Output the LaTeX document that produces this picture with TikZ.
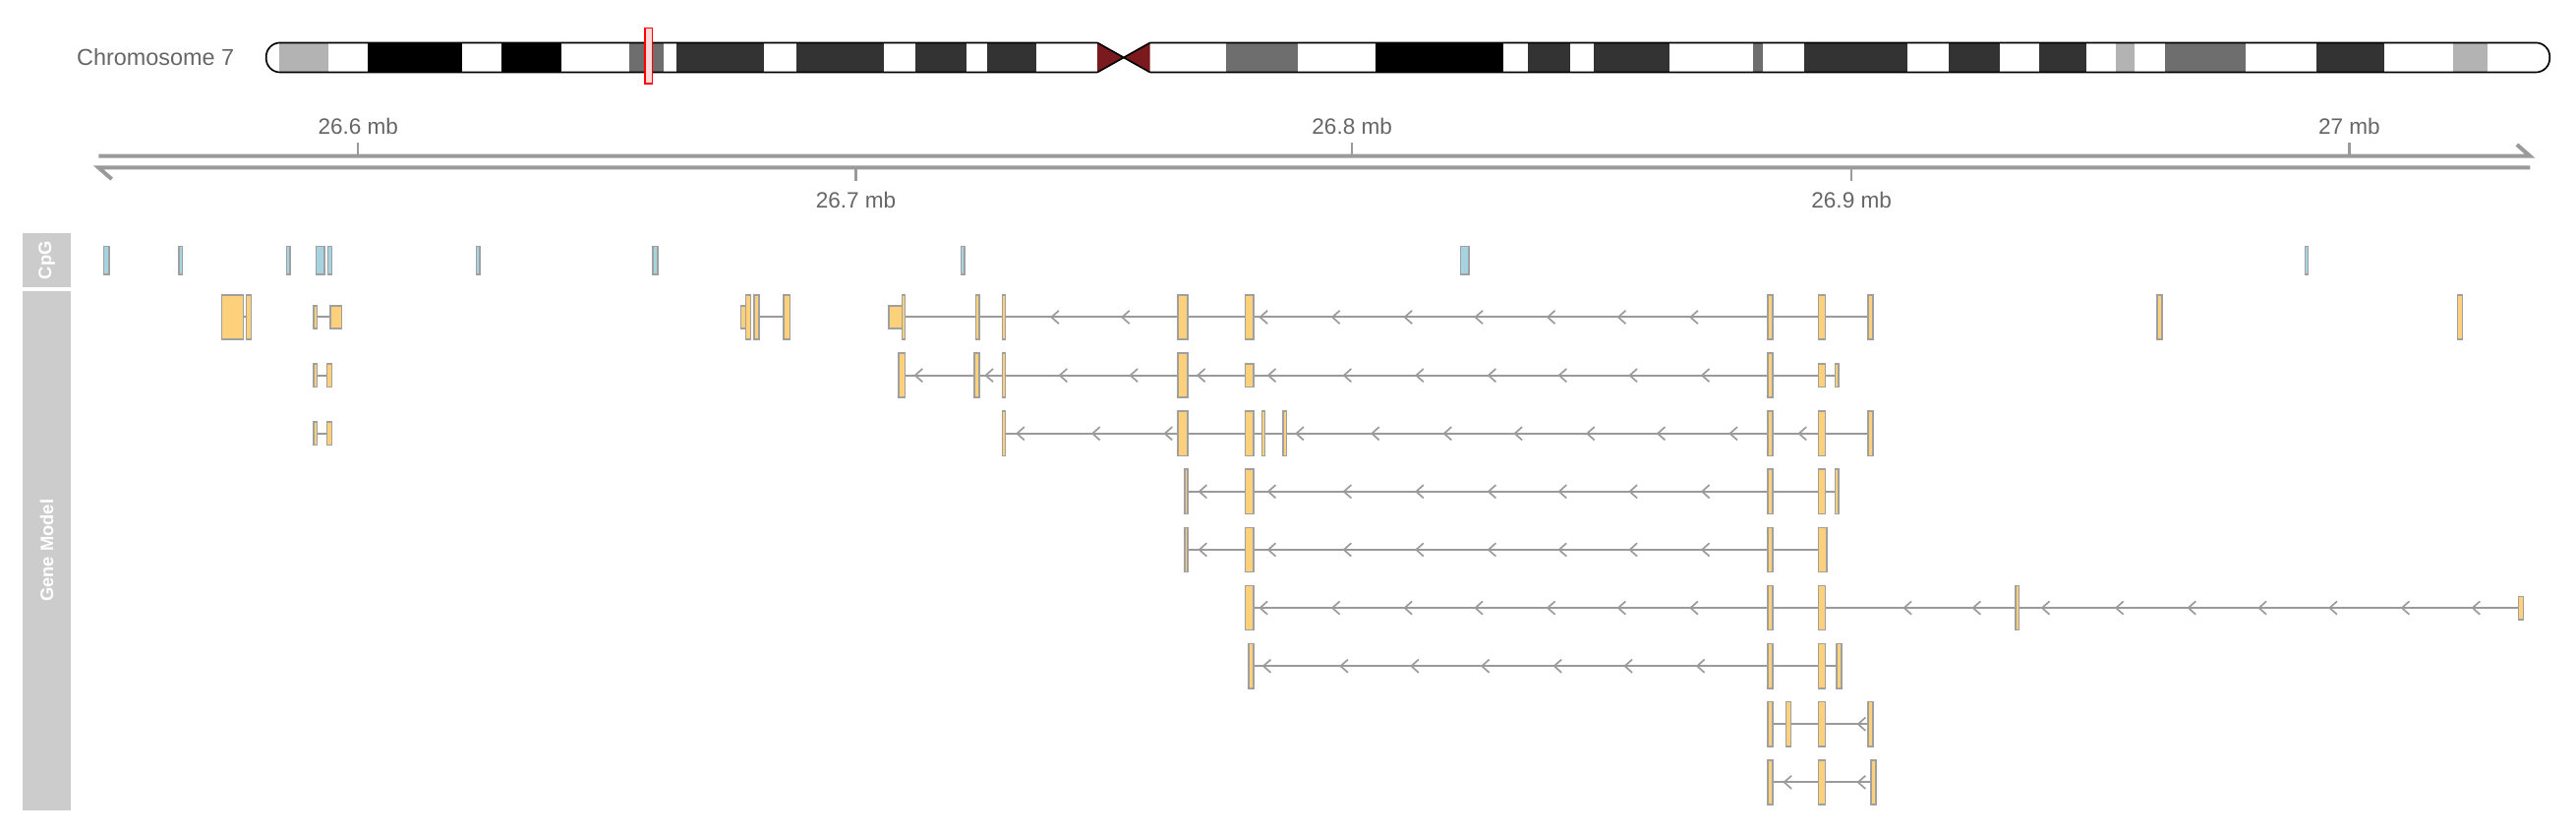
\documentclass[tikz,border=0pt]{standalone}
\usepackage{fontspec}
\setmainfont{Liberation Sans}
\begin{document}
\definecolor{exf}{HTML}{FDD07C}
\definecolor{exb}{HTML}{A0A0A0}
\definecolor{cpg}{HTML}{A6D3E0}
\definecolor{cen}{HTML}{7A1A1E}
\definecolor{lg}{HTML}{B3B3B3}
\definecolor{mg}{HTML}{6E6E6E}
\definecolor{dg}{HTML}{333333}
\definecolor{ax}{HTML}{9A9A9A}
\definecolor{tx}{HTML}{666666}
\definecolor{pan}{HTML}{CCCCCC}
\newcommand\ex[4]{\draw[exon] (#1,#3-#4/2) rectangle (#2,#3+#4/2);}
\newcommand\intr[3]{\draw[intron] (#1,#3) -- (#2,#3);}
\newcommand\arrs[2]{\foreach \a in {#1}{\draw[arrw] (\a+4.5,#2-4) -- (\a,#2) -- (\a+4.5,#2+4);}}
\newcommand\band[3]{\fill[#3] (#1,26) rectangle (#2,44);}
\begin{tikzpicture}[x=1pt,y=-1pt,
  exon/.style={draw=exb,fill=exf,line width=0.9pt},
  cpgbox/.style={draw=exb,fill=cpg,line width=0.9pt},
  intron/.style={draw=ax,line width=1.2pt},
  arrw/.style={draw=ax,line width=1pt},
  axl/.style={draw=ax,line width=2.4pt},
  tick/.style={draw=ax,line width=1.4pt},
  lab/.style={text=tx,font=\fontsize{13.5}{15}\selectfont},
  side/.style={fill=pan},
  sidelab/.style={text=white,font=\bfseries\fontsize{11}{12}\selectfont,rotate=90}]
\useasboundingbox (0,0) rectangle (1568,508);
% chromosome
\node[lab,anchor=east,font=\fontsize{14}{16}\selectfont] (chr) at (146,35) {Chromosome 7};
\begin{scope}
\clip[rounded corners=8.5pt] (162,26) rectangle (668,44);
\band{170}{200}{lg}\band{224}{281}{black}\band{305}{342}{black}
\band{383}{404}{mg}\band{412}{465}{dg}\band{485}{538}{dg}\band{557}{588}{dg}\band{601}{631}{dg}
\end{scope}
\draw[black,line width=1pt,rounded corners=8.5pt] (668,26) -- (162,26) -- (162,44) -- (668,44);
\begin{scope}
\clip[rounded corners=8.5pt] (700,26) rectangle (1552,44);
\band{746}{790}{mg}\band{837}{915}{black}\band{930}{956}{dg}\band{970}{1016}{dg}
\band{1067}{1073}{mg}\band{1098}{1161}{dg}\band{1186}{1217}{dg}\band{1241}{1270}{dg}
\band{1288}{1299}{lg}\band{1318}{1367}{mg}\band{1410}{1451}{dg}\band{1493}{1514}{lg}
\end{scope}
\draw[black,line width=1pt,rounded corners=8.5pt] (700,26) -- (1552,26) -- (1552,44) -- (700,44);
\fill[cen] (668,26) -- (684,35) -- (668,44) -- cycle;
\fill[cen] (700,26) -- (684,35) -- (700,44) -- cycle;
\draw[black,line width=1pt] (668,26) -- (700,44) (668,44) -- (700,26);
\draw[red,line width=1pt,fill=red!15] (392.5,17) rectangle (397,51);
% axis
\draw[axl] (60,95) -- (1540,95) -- (1532,88);
\draw[axl] (1540,102) -- (60,102) -- (68,109);
\foreach \x/\t in {218/26.6 mb,823/26.8 mb,1430/27 mb}{\draw[tick] (\x,95) -- (\x,87); \node[lab] at (\x,77) {\t};}
\foreach \x/\t in {521/26.7 mb,1127/26.9 mb}{\draw[tick] (\x,102) -- (\x,110); \node[lab] at (\x,122) {\t};}
% side panels
\fill[side] (14,142) rectangle (43,175);
\fill[side] (14,177) rectangle (43,493);
\node[sidelab] (cpglab) at (28.5,158.5) {CpG};
\node[sidelab] (gmlab) at (28.5,335) {Gene Model};
% CpG
\foreach \a/\b in {63/66.5,109/111,174.5/176.5,192.5/197.5,199.5/202,290/292,397.5/400.5,585/587,889/894,1403/1405}{\draw[cpgbox] (\a,150) rectangle (\b,167);}
% gene model
\def\T{27}\def\M{14}
% row1
\def\y{193}
\intr{148}{150}{\y}\ex{135}{148}{\y}{\T}\ex{150}{153}{\y}{\T}
\intr{193}{201}{\y}\ex{191}{193}{\y}{\M}\ex{201}{208}{\y}{\M}
\intr{462}{477}{\y}\ex{451}{454}{\y}{\M}\ex{454}{457}{\y}{\T}\ex{459}{462}{\y}{\T}\ex{477}{481}{\y}{\T}
\intr{549}{1140}{\y}\arrs{640,683,767,811,855,898,942,985,1029}{\y}
\ex{541}{549}{\y}{\M}\ex{549}{551}{\y}{\T}\ex{594}{596}{\y}{\T}\ex{610}{612}{\y}{\T}\ex{717}{723}{\y}{\T}\ex{758}{763}{\y}{\T}\ex{1076}{1079}{\y}{\T}\ex{1107}{1111}{\y}{\T}\ex{1137}{1140}{\y}{\T}
\ex{1313}{1316}{\y}{\T}\ex{1496}{1499}{\y}{\T}
% row2
\def\y{228.4}
\intr{193}{199}{\y}\ex{191}{193}{\y}{\M}\ex{199}{202}{\y}{\M}
\intr{549}{1119}{\y}\arrs{557,600,645,688,729,772,818,862,906,949,992,1036}{\y}
\ex{547}{551}{\y}{\T}\ex{593}{596}{\y}{\T}\ex{610}{612}{\y}{\T}\ex{717}{723}{\y}{\T}\ex{758}{763}{\y}{\M}\ex{1076}{1079}{\y}{\T}\ex{1107}{1111}{\y}{\M}\ex{1117}{1119}{\y}{\M}
% row3
\def\y{263.8}
\intr{193}{199}{\y}\ex{191}{193}{\y}{\M}\ex{199}{202}{\y}{\M}
\intr{612}{1140}{\y}\arrs{619,665,709,789,835,879,922,966,1009,1053,1095}{\y}
\ex{610}{612}{\y}{\T}\ex{717}{723}{\y}{\T}\ex{758}{763}{\y}{\T}\ex{768}{770}{\y}{\T}\ex{781}{783}{\y}{\T}\ex{1076}{1079}{\y}{\T}\ex{1107}{1111}{\y}{\T}\ex{1137}{1140}{\y}{\T}
% row4
\def\y{299.1}
\intr{721}{1119}{\y}\arrs{730,772,818,862,906,949,992,1036}{\y}
\ex{721}{723}{\y}{\T}\ex{758}{763}{\y}{\T}\ex{1076}{1079}{\y}{\T}\ex{1107}{1111}{\y}{\T}\ex{1117}{1119}{\y}{\T}
% row5
\def\y{334.5}
\intr{721}{1112}{\y}\arrs{730,772,818,862,906,949,992,1036}{\y}
\ex{721}{723}{\y}{\T}\ex{758}{763}{\y}{\T}\ex{1076}{1079}{\y}{\T}\ex{1107}{1112}{\y}{\T}
% row6
\def\y{369.9}
\intr{758}{1536}{\y}\arrs{767,811,855,898,942,985,1029,1159,1201,1243,1288,1332,1375,1418,1462,1505}{\y}
\ex{758}{763}{\y}{\T}\ex{1076}{1079}{\y}{\T}\ex{1107}{1111}{\y}{\T}\ex{1227}{1229}{\y}{\T}\ex{1533}{1536}{\y}{\M}
% row7
\def\y{405.3}
\intr{760}{1121}{\y}\arrs{769,816,859,902,946,989,1033}{\y}
\ex{760}{763}{\y}{\T}\ex{1076}{1079}{\y}{\T}\ex{1107}{1111}{\y}{\T}\ex{1118}{1121}{\y}{\T}
% row8
\def\y{440.6}
\intr{1076}{1140}{\y}\arrs{1131}{\y}
\ex{1076}{1079}{\y}{\T}\ex{1087}{1090}{\y}{\T}\ex{1107}{1111}{\y}{\T}\ex{1137}{1140}{\y}{\T}
% row9
\def\y{476}
\intr{1076}{1142}{\y}\arrs{1086,1131}{\y}
\ex{1076}{1079}{\y}{\T}\ex{1107}{1111}{\y}{\T}\ex{1139}{1142}{\y}{\T}
\end{tikzpicture}
\end{document}
